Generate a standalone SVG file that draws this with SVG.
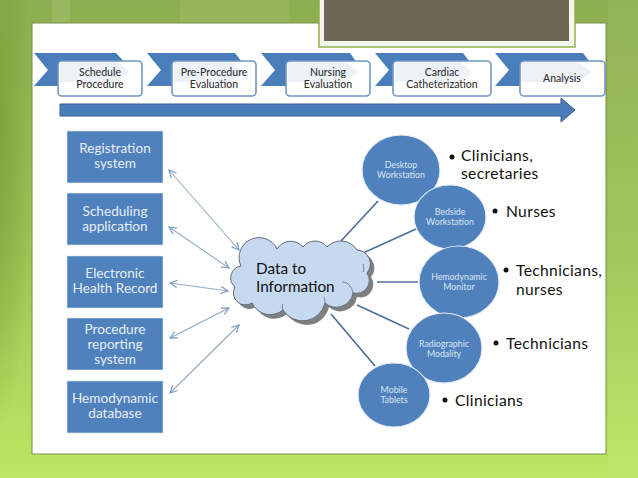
<svg xmlns="http://www.w3.org/2000/svg" width="638" height="478" viewBox="0 0 638 478">
<defs>
<linearGradient id="bg" x1="0" y1="0" x2="0" y2="1"><stop offset="0" stop-color="#8dae50"/><stop offset="0.5" stop-color="#9cc254"/><stop offset="1" stop-color="#bde664"/></linearGradient>
<radialGradient id="side" gradientUnits="userSpaceOnUse" cx="0" cy="0" r="1" gradientTransform="translate(0 130) scale(32 300)"><stop offset="0" stop-color="#76a03a" stop-opacity="0.8"/><stop offset="1" stop-color="#76a03a" stop-opacity="0"/></radialGradient>
<marker id="ah" viewBox="0 0 10 10" refX="9" refY="5" markerWidth="9" markerHeight="9" markerUnits="userSpaceOnUse" orient="auto-start-reverse"><path d="M1 1L9 5L1 9" fill="none" stroke="#7f9fc0" stroke-width="1.4"/></marker>
<path id="cloud" d="M235 287A12 12 0 0 1 241 266A19 19 0 0 1 277 249A16 16 0 0 1 303 247A15 15 0 0 1 327 247A19 19 0 0 1 357 250A14 14 0 0 1 367 273A13 13 0 0 1 353 293A17 17 0 0 1 325 303A23 23 0 0 1 283 310A20 20 0 0 1 252 303A12 12 0 0 1 235 287Z"/>
</defs>
<style>
text{font-family:Lato,"Open Sans","Liberation Sans",sans-serif;text-anchor:middle}
.chev{fill:#4a7ebb}
.step{fill:#fff;stroke:#6f96c4;stroke-width:1.6}
.tip{fill:#edf2f9}
.stext{font-size:10.5px;fill:#333;font-weight:500}
.sys{fill:#4f81bd;stroke:#dce6f1;stroke-width:.6}
.systext{font-size:13.6px;fill:#e6eef7}
.circ{fill:#4f81bd;stroke:#e4ecf6;stroke-width:1.2}
.ctext{font-size:8.8px;fill:#dbe6f3}
.bul{font-size:15.6px;letter-spacing:.35px;fill:#111;text-anchor:start}
.dot{fill:#111}
.link{stroke:#4f7199;stroke-width:1.7;fill:none}
.dbl{stroke:#8fabc8;stroke-width:1.1;fill:none;marker-start:url(#ah);marker-end:url(#ah)}
</style>
<rect width="638" height="478" fill="url(#bg)"/>
<rect width="32" height="478" fill="url(#side)"/>
<rect x="52" y="0" width="18" height="23" fill="#fff" opacity=".1"/>
<rect x="180" y="0" width="110" height="23" fill="#fff" opacity=".07"/>
<rect x="608" y="0" width="30" height="478" fill="#fff" opacity=".05"/>
<rect x="32" y="23" width="574" height="431" fill="#fff" stroke="#77904c" stroke-width="1"/>
<g id="title-box"><rect x="319" y="-2" width="256" height="49" fill="#f4f6ee" stroke="#8fb14c" stroke-width="1.5"/><rect x="324" y="-2" width="245" height="43" fill="#6e6654"/></g>

<g id="timeline">
<g id="step1"><path class="chev" d="M34 53H116L132 70L116 86H34L48 70Z"/><rect class="step" x="58" y="61" width="84" height="35" rx="4"/><path class="tip" d="M60 62H118L130 72L118 82H60Z"/><text class="stext" x="100" y="76">Schedule</text><text class="stext" x="100" y="88">Procedure</text></g>
<g id="step2"><path class="chev" d="M147 53H235L248 70L235 86H147L161 70Z"/><rect class="step" x="172" y="61" width="84" height="35" rx="4"/><path class="tip" d="M174 62H232L244 72L232 82H174Z"/><text class="stext" x="214" y="76">Pre-Procedure</text><text class="stext" x="214" y="88">Evaluation</text></g>
<g id="step3"><path class="chev" d="M261 53H350L362 70L350 86H261L275 70Z"/><rect class="step" x="286" y="61" width="84" height="35" rx="4"/><path class="tip" d="M288 62H346L358 72L346 82H288Z"/><text class="stext" x="328" y="76">Nursing</text><text class="stext" x="328" y="88">Evaluation</text></g>
<g id="step4"><path class="chev" d="M375 53H463L476 70L463 86H375L389 70Z"/><rect class="step" x="393" y="61" width="98" height="35" rx="4"/><path class="tip" d="M395 62H460L472 72L460 82H395Z"/><text class="stext" x="442" y="76">Cardiac</text><text class="stext" x="442" y="88">Catheterization</text></g>
<g id="step5"><path class="chev" d="M495 53H583L596 70L583 86H495L509 70Z"/><rect class="step" x="520" y="61" width="85" height="35" rx="4"/><path class="tip" d="M522 62H578L592 72L578 82H522Z"/><text class="stext" x="562" y="82">Analysis</text></g>
<path id="flow-arrow" d="M60 104H561V98L575 110L561 122V116H60Z" fill="#4a7ebb" stroke="#3a5f8f" stroke-width="1"/>
</g>

<g id="connectors">
<path class="dbl" d="M169 170L239 250"/>
<path class="dbl" d="M169 227L229 268"/>
<path class="dbl" d="M170 283L228 291"/>
<path class="dbl" d="M170 338L229 308"/>
<path class="dbl" d="M170 393L239 325"/>
<path class="link" d="M341 241L378 201"/>
<path class="link" d="M363 253L416 229"/>
<path class="link" d="M377 282L418 282"/>
<path class="link" d="M357 305L409 329"/>
<path class="link" d="M331 314L375 366"/>
</g>

<g id="sys1"><rect class="sys" x="67" y="131" width="96" height="52"/><text class="systext" x="115" y="153">Registration</text><text class="systext" x="115" y="168">system</text></g>
<g id="sys2"><rect class="sys" x="67" y="193" width="96" height="52"/><text class="systext" x="115" y="216">Scheduling</text><text class="systext" x="115" y="231">application</text></g>
<g id="sys3"><rect class="sys" x="67" y="256" width="96" height="52"/><text class="systext" x="115" y="278">Electronic</text><text class="systext" x="115" y="293">Health Record</text></g>
<g id="sys4"><rect class="sys" x="67" y="318" width="96" height="52"/><text class="systext" x="115" y="334">Procedure</text><text class="systext" x="115" y="349">reporting</text><text class="systext" x="115" y="364">system</text></g>
<g id="sys5"><rect class="sys" x="67" y="381" width="96" height="52"/><text class="systext" x="115" y="403">Hemodynamic</text><text class="systext" x="115" y="418">database</text></g>

<g id="cloud-node">
<use href="#cloud" transform="translate(4 4)" fill="#7f7f7f"/>
<use href="#cloud" fill="#c6d9f1" stroke="#5f6b78" stroke-width="1"/>
<path d="M342 282C348 282 352 287 353 293M363 272C364 270 364 268 363 264M283 310C282 308 282 306 283 304M325 303C325 301 325 299 324 297" fill="none" stroke="#5f6b78" stroke-width=".8"/>
<text x="256" y="274" font-size="15.3" fill="#111" style="text-anchor:start">Data to</text>
<text x="256" y="292" font-size="15.3" fill="#111" style="text-anchor:start">Information</text>
</g>

<g id="desktop"><ellipse class="circ" cx="401" cy="170" rx="39" ry="35"/><text class="ctext" x="401" y="168">Desktop</text><text class="ctext" x="401" y="178">Workstation</text></g>
<g id="bedside"><ellipse class="circ" cx="450" cy="217" rx="36" ry="32"/><text class="ctext" x="450" y="215">Bedside</text><text class="ctext" x="450" y="225">Workstation</text></g>
<g id="hemo"><ellipse class="circ" cx="459" cy="282" rx="40" ry="36"/><text class="ctext" x="459" y="280">Hemodynamic</text><text class="ctext" x="459" y="290">Monitor</text></g>
<g id="radio"><ellipse class="circ" cx="444" cy="348" rx="38" ry="35"/><text class="ctext" x="444" y="347">Radiographic</text><text class="ctext" x="444" y="357">Modality</text></g>
<g id="mobile"><ellipse class="circ" cx="394" cy="395" rx="36" ry="32"/><text class="ctext" x="394" y="393">Mobile</text><text class="ctext" x="394" y="403">Tablets</text></g>

<g id="labels">
<circle class="dot" cx="452" cy="157" r="2.5"/><text class="bul" x="461" y="161">Clinicians,</text><text class="bul" x="461" y="179">secretaries</text>
<circle class="dot" cx="495" cy="211" r="2.5"/><text class="bul" x="506" y="217">Nurses</text>
<circle class="dot" cx="506" cy="270" r="2.5"/><text class="bul" x="516" y="276">Technicians,</text><text class="bul" x="516" y="295">nurses</text>
<circle class="dot" cx="496" cy="343" r="2.5"/><text class="bul" x="506" y="349">Technicians</text>
<circle class="dot" cx="445" cy="400" r="2.5"/><text class="bul" x="455" y="406">Clinicians</text>
</g>
</svg>
